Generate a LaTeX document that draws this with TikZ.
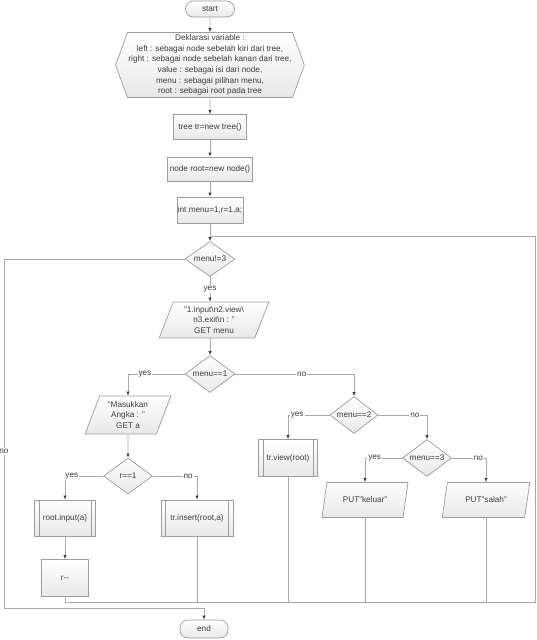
\documentclass[tikz,border=0pt]{standalone}
\usepackage{fontspec}
\setmainfont{Liberation Sans}
\usetikzlibrary{shapes.geometric,shapes.symbols,arrows.meta}
\definecolor{linegray}{HTML}{A8A8A8}
\definecolor{boxgray}{HTML}{9C9C9C}
\definecolor{txtgray}{HTML}{3C3C3C}
\tikzset{
  box/.style={draw=boxgray, line width=0.7pt, top color=white, bottom color=black!9,
    text=txtgray, inner sep=1pt, align=center},
  term/.style={box, rounded corners=8pt, minimum width=49pt, minimum height=16pt},
  proc/.style={box, rectangle},
  pproc/.style={proc, path picture={
      \draw[boxgray, line width=0.7pt]
        ([xshift=4.5pt]path picture bounding box.north west) -- ([xshift=4.5pt]path picture bounding box.south west)
        ([xshift=-4.5pt]path picture bounding box.north east) -- ([xshift=-4.5pt]path picture bounding box.south east);}},
  dec/.style={box, diamond, aspect=1.4, inner sep=0.5pt},
  io/.style={box, trapezium, trapezium left angle=70, trapezium right angle=110,
    trapezium stretches=true},
  hexa/.style={box, signal, signal to=west and east, signal pointer angle=140},
  line/.style={draw=linegray, line width=0.7pt},
  flow/.style={line, -{Latex[length=4pt,width=3.5pt,black!75]}},
  lbl/.style={fill=white, text=txtgray, inner sep=1pt}
}
\begin{document}
\begin{tikzpicture}[x=1pt,y=-1pt,font=\fontsize{8.2}{10.7}\selectfont]
\useasboundingbox (0,0) rectangle (536,640);
% main column
\node[term] (start) at (210,9) {start};
\node[hexa, minimum width=188pt, minimum height=65pt] (decl) at (210,65)
  {Deklarasi variable :\\left : sebagai node sebelah kiri dari tree,\\
   right : sebagai node sebelah kanan dari tree,\\value : sebagai isi dari node,\\
   menu : sebagai pilihan menu,\\root : sebagai root pada tree};
\node[proc, minimum width=73pt, minimum height=25pt] (tree) at (210,127) {tree tr=new tree()};
\node[proc, minimum width=85pt, minimum height=24pt] (root) at (210,169) {node root=new node()};
\node[proc, minimum width=66pt, minimum height=26pt] (init) at (210,210) {int menu=1,r=1,a;};
\node[dec, minimum width=50pt, minimum height=35pt] (notthree) at (210,259) {menu!=3};
\node[io, minimum width=110pt, minimum height=36pt] (askmenu) at (214,320)
  {"1.input\textbackslash n2.view\textbackslash\\ n3.exit\textbackslash n : "\\GET menu};
\node[dec, minimum width=50pt, minimum height=37pt] (one) at (210,374) {menu==1};
% menu==1 yes
\node[io, minimum width=86pt, minimum height=38pt] (askA) at (128,415) {"Masukkan\\Angka : "\\GET a};
\node[dec, minimum width=49pt, minimum height=36pt] (rone) at (128,476) {r==1};
\node[pproc, minimum width=61pt, minimum height=36pt] (rootin) at (65,518) {root.input(a)};
\node[pproc, minimum width=72pt, minimum height=36pt] (trins) at (197,518) {tr.insert(root,a)};
\node[proc, minimum width=47pt, minimum height=37pt] (rdec) at (65,578) {r-{}-};
% menu==1 no
\node[dec, minimum width=48pt, minimum height=37pt] (two) at (354,415) {menu==2};
\node[pproc, minimum width=59pt, minimum height=37pt] (view) at (288,458) {tr.view(root)};
\node[dec, minimum width=49pt, minimum height=37pt] (three) at (427,458) {menu==3};
\node[io, minimum width=86pt, minimum height=35pt] (keluar) at (365,500) {PUT"keluar"};
\node[io, minimum width=88pt, minimum height=35pt] (salah) at (486,500) {PUT"salah"};
\node[term, minimum width=48pt, minimum height=18pt] (fin) at (204,629) {end};
\coordinate (loopJ) at (210,236);
\coordinate (loopR) at (535,602);
\coordinate (loopL) at (4,608);
% connectors
\draw[flow] (start) -- (decl);
\draw[flow] (decl) -- (tree);
\draw[flow] (tree) -- (root);
\draw[flow] (root) -- (init);
\draw[flow] (init) -- (notthree);
\draw[flow] (notthree.south) -- node[lbl]{yes} (notthree.south |- askmenu.north);
\draw[flow] (one.north |- askmenu.south) -- (one.north);
\draw[flow] (one.west) -| node[lbl,pos=0.35]{yes} (askA.north);
\draw[flow] (one.east) -| node[lbl,pos=0.28]{no} (two.north);
\draw[flow] (askA) -- (rone);
\draw[flow] (rone.west) -| node[lbl,pos=0.41]{yes} (rootin.north);
\draw[flow] (rone.east) -| node[lbl,pos=0.4]{no} (trins.north);
\draw[flow] (rootin) -- (rdec);
\draw[flow] (two.west) -| node[lbl,pos=0.39]{yes} (view.north);
\draw[flow] (two.east) -| node[lbl,pos=0.375]{no} (three.north);
\draw[flow] (three.west) -| node[lbl,pos=0.37]{yes} (keluar |- keluar.north);
\draw[flow] (three.east) -| node[lbl,pos=0.39]{no} (salah |- salah.north);
% back to the loop
\draw[line] (rdec.south) |- (loopR) |- (loopJ);
\draw[line] (trins.south) -- (trins.south |- loopR);
\draw[line] (view.south) -- (view.south |- loopR);
\draw[line] (keluar |- keluar.south) -- (keluar |- loopR);
\draw[line] (salah |- salah.south) -- (salah |- loopR);
\draw[flow] (notthree.west) -| node[lbl,pos=0.776]{no} (loopL) -| (fin.north);
\end{tikzpicture}
\end{document}
